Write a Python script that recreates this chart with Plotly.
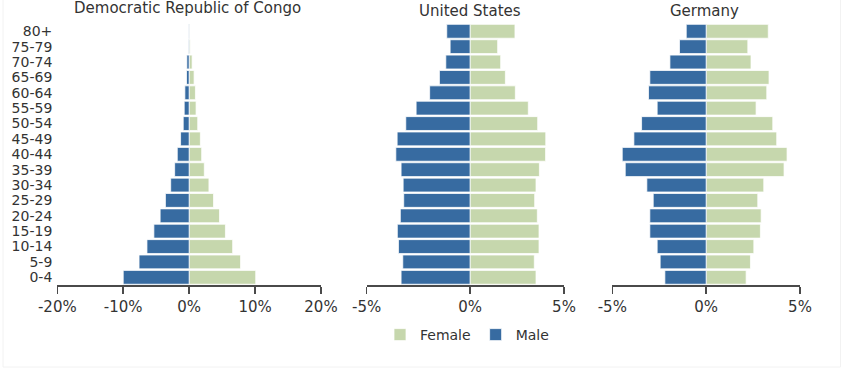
import plotly.graph_objects as go

age_groups = ["0-4", "5-9", "10-14", "15-19", "20-24", "25-29", "30-34", "35-39",
              "40-44", "45-49", "50-54", "55-59", "60-64", "65-69", "70-74", "75-79", "80+"]

congo_male = [10.0, 7.6, 6.4, 5.35, 4.4, 3.6, 2.8, 2.2, 1.8, 1.3, 0.9, 0.75, 0.65, 0.4, 0.35, 0.1, 0.05]
congo_female = [10.1, 7.8, 6.6, 5.5, 4.6, 3.7, 3.0, 2.3, 1.9, 1.7, 1.3, 1.05, 0.95, 0.75, 0.45, 0.15, 0.08]

us_male = [3.67, 3.58, 3.81, 3.87, 3.71, 3.53, 3.56, 3.67, 3.95, 3.88, 3.42, 2.87, 2.15, 1.63, 1.29, 1.06, 1.24]
us_female = [3.51, 3.42, 3.67, 3.67, 3.58, 3.44, 3.51, 3.69, 4.02, 4.03, 3.60, 3.10, 2.41, 1.88, 1.63, 1.47, 2.39]

de_male = [2.20, 2.45, 2.61, 3.00, 3.00, 2.82, 3.16, 4.31, 4.47, 3.85, 3.44, 2.61, 3.07, 3.00, 1.93, 1.42, 1.06]
de_female = [2.13, 2.36, 2.54, 2.89, 2.93, 2.75, 3.07, 4.15, 4.31, 3.76, 3.55, 2.66, 3.23, 3.35, 2.39, 2.22, 3.31]

titles = ["Democratic Republic of Congo", "United States", "Germany"]

congo_ticks = [-20, -10, 0, 10, 20]
congo_ticktext = ["-20%", "-10%", "0%", "10%", "20%"]
us_ticks = [-5.5, 0, 5]
us_ticktext = ["-5%", "0%", "5%"]
de_ticks = [-5, 0, 5]
de_ticktext = ["-5%", "0%", "5%"]

MALE = "#376ba1"
FEMALE = "#c6d7ad"
FONT = "DejaVu Sans"
W, H = 842, 370

def px_x(v):
    return v / W

def px_y(v):
    return (H - v) / H

fig = go.Figure()

panels = [
    ("x", congo_male, congo_female),
    ("x2", us_male, us_female),
    ("x3", de_male, de_female),
]

for i, (xa, male, female) in enumerate(panels):
    fig.add_trace(go.Bar(
        y=age_groups, x=female, orientation="h", name="Female",
        marker=dict(color=FEMALE, line=dict(color="rgba(255,255,255,0.75)", width=1)),
        xaxis=xa, yaxis="y", legendgroup="Female", showlegend=(i == 0),
        legendrank=1,
    ))
    fig.add_trace(go.Bar(
        y=age_groups, x=[-v for v in male], orientation="h", name="Male",
        marker=dict(color=MALE, line=dict(color="rgba(255,255,255,0.75)", width=1)),
        xaxis=xa, yaxis="y", legendgroup="Male", showlegend=(i == 0),
        legendrank=2,
    ))

axis_common = dict(
    showgrid=False, zeroline=False, showline=True, linecolor="#4a4a4a", linewidth=1.5,
    ticks="outside", ticklen=7, tickwidth=1.5, tickcolor="#4a4a4a",
    tickfont=dict(family=FONT, size=15, color="#333333"), anchor="y", fixedrange=True,
    automargin=False,
)

fig.update_layout(
    width=W, height=H,
    margin=dict(l=0, r=0, t=0, b=0, pad=0),
    paper_bgcolor="white", plot_bgcolor="white",
    barmode="relative", bargap=0.1,
    font=dict(family=FONT, size=14, color="#333333"),
    xaxis=dict(domain=[px_x(57.3), px_x(321)], range=[-20, 20],
               tickvals=congo_ticks, ticktext=congo_ticktext, **axis_common),
    xaxis2=dict(domain=[px_x(366.7), px_x(564)], range=[-5.5, 5],
                tickvals=us_ticks, ticktext=us_ticktext, **axis_common),
    xaxis3=dict(domain=[px_x(612.3), px_x(800)], range=[-5, 5],
                tickvals=de_ticks, ticktext=de_ticktext, **axis_common),
    yaxis=dict(domain=[px_y(285), px_y(23.6)], type="category",
               categoryorder="array", categoryarray=age_groups,
               tickmode="array", tickvals=age_groups, ticktext=age_groups,
               range=[-0.5, len(age_groups) - 0.5],
               showgrid=False, zeroline=False, showline=False, ticks="",
               ticklabelstandoff=4,
               tickfont=dict(family=FONT, size=14, color="#333333"),
               anchor="x", fixedrange=True, automargin=False),
    legend=dict(orientation="h", x=px_x(467), xanchor="center",
                y=px_y(335), yanchor="middle",
                font=dict(family=FONT, size=14, color="#333333"),
                itemwidth=30, traceorder="normal", bgcolor="rgba(0,0,0,0)"),
    showlegend=True,
)

title_pos = [(187, 8), (470, 10.5), (704, 10.5)]
for t, (cx, cy) in zip(titles, title_pos):
    fig.add_annotation(text=t, x=px_x(cx), y=px_y(cy), xref="paper", yref="paper",
                       xanchor="center", yanchor="middle", showarrow=False,
                       font=dict(family=FONT, size=15, color="#333333"))

fig.add_shape(type="rect", xref="paper", yref="paper",
              x0=px_x(3), x1=px_x(840.5), y0=px_y(367), y1=1.2,
              line=dict(color="#f2f2f2", width=1), fillcolor="rgba(0,0,0,0)", layer="below")

fig.write_html("out.html",
               config={"displayModeBar": False, "staticPlot": True},
               post_script="document.body.style.margin='0';document.body.style.padding='0';")
